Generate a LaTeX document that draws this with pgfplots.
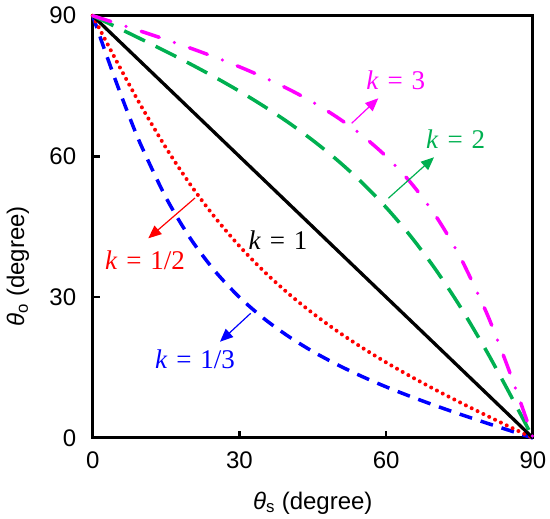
\documentclass[border=0pt]{standalone}
\usepackage{fontspec}
\setmainfont{Liberation Sans}
\newfontfamily\kfont{Liberation Serif}
\usepackage{pgfplots}
\pgfplotsset{compat=1.18}
\usetikzlibrary{arrows.meta}

\definecolor{kgreen}{HTML}{00B050}
\definecolor{kpink}{HTML}{FF00FF}
\definecolor{kred}{HTML}{FF0000}
\definecolor{kblue}{HTML}{0000FF}

\newcommand{\bigfont}{\fontsize{24}{28}\selectfont}
\newcommand{\klab}[1]{{\kfont\fontsize{27}{32}\selectfont\textit{k}\hspace{0.33em}=\hspace{0.33em}#1}}

\begin{document}
\begin{tikzpicture}
  \begin{axis}[
    width=440.3pt, height=422.3pt, scale only axis,
    xmin=0, xmax=90, ymin=0, ymax=90,
    xtick={0,30,60,90}, ytick={0,30,60,90},
    tick pos=left, tick align=inside,
    major tick length=7pt,
    tick style={black, line width=2.5pt},
    axis line style={line width=3pt},
    /pgf/number format/assume math mode=true,
    tick label style={font=\bigfont},
    xticklabel style={yshift=-10pt},
    yticklabel style={xshift=-13pt},
    label style={font=\bigfont},
    xlabel={\textit{θ}\textsubscript{s} (degree)},
    ylabel={\textit{θ}\textsubscript{o} (degree)},
    xlabel style={at={(axis description cs:0.5,-0.154)}, anchor=center},
    ylabel style={at={(axis description cs:-0.1697,0.407)}, anchor=center},
    clip=false,
    ]
    % k = 1/3
    \addplot[kblue, line width=3.5pt, dash pattern=on 13pt off 9pt, smooth]
    coordinates {(0,90) (1,87.00) (2,84.02) (3,81.06) (5,75.30) (7.5,68.45)
      (10,62.12) (15,51.20) (20,42.48) (25,35.56) (30,30) (35,25.46)
      (40,21.67) (45,18.43) (50,15.63) (55,13.14) (60,10.89) (65,8.84)
      (70,6.92) (75,5.10) (80,3.36) (85,1.67) (90,0)};
    % k = 1/2
    \addplot[kred, line width=4pt, line cap=round, dash pattern=on 0pt off 6.5pt, smooth]
    coordinates {(0,90) (1,88.00) (2,86.00) (3,84.02) (5,80.07) (7.5,75.25)
      (10,70.57) (15,61.81) (20,53.95) (25,47.00) (30,40.89) (35,35.52)
      (40,30.79) (45,26.57) (50,22.76) (55,19.30) (60,16.10) (65,13.12)
      (70,10.31) (75,7.63) (80,5.04) (85,2.50) (90,0)};
    % k = 1
    \addplot[black, line width=3.3pt]
    coordinates {(0,90) (90,0)};
    % k = 2
    \addplot[kgreen, line width=3.5pt, dash pattern=on 23pt off 12pt, smooth]
    coordinates {(0,90) (5,87.50) (10,84.96) (15,82.37) (20,79.69) (25,76.88)
      (30,73.90) (35,70.70) (40,67.24) (45,63.43) (50,59.21) (55,54.48)
      (60,49.11) (65,43.00) (70,36.05) (75,28.19) (80,19.43) (82.5,14.75)
      (85,9.93) (87,5.98) (88,4.00) (89,2.00) (90,0)};
    % k = 3
    \addplot[kpink, line width=3.5pt, line cap=round,
      dash pattern=on 19pt off 16pt on 0pt off 16pt, smooth]
    coordinates {(0,90) (5,88.33) (10,86.64) (15,84.90) (20,83.08) (25,81.16)
      (30,79.11) (35,76.86) (40,74.37) (45,71.57) (50,68.33) (55,64.54)
      (60,60) (65,54.44) (70,47.52) (75,38.80) (80,27.88) (82.5,21.55)
      (85,14.70) (87,8.94) (88,5.98) (89,3.00) (90,0)};

    % labels and arrows
    \draw[kpink, line width=1.2pt, -{Triangle[length=13pt,width=11pt]}]
      (axis cs:52.94,67.07) -- (axis cs:58.38,72.40);
    \node[text=kpink] at (axis cs:61.94,76.3) {\klab{3}};
    \draw[kgreen, line width=1.2pt, -{Triangle[length=13pt,width=11pt]}]
      (axis cs:60.43,51.09) -- (axis cs:69.77,59.83);
    \node[text=kgreen] at (axis cs:74.2,63.66) {\klab{2}};
    \node[text=black] at (axis cs:37.88,42.2) {\klab{1}};
    \draw[kred, line width=1.2pt, -{Triangle[length=13pt,width=11pt]}]
      (axis cs:20.91,51.15) -- (axis cs:11.37,42.56);
    \node[text=kred] at (axis cs:10.69,37.94) {\klab{1/2}};
    \draw[kblue, line width=1.2pt, -{Triangle[length=13pt,width=11pt]}]
      (axis cs:32.3,26.58) -- (axis cs:26.02,20.52);
    \node[text=kblue] at (axis cs:20.91,16.77) {\klab{1/3}};
  \end{axis}
  \pgfresetboundingbox
  \path[use as bounding box] (-92.7pt,-81pt) rectangle (457.3pt,438pt);
\end{tikzpicture}
\end{document}
